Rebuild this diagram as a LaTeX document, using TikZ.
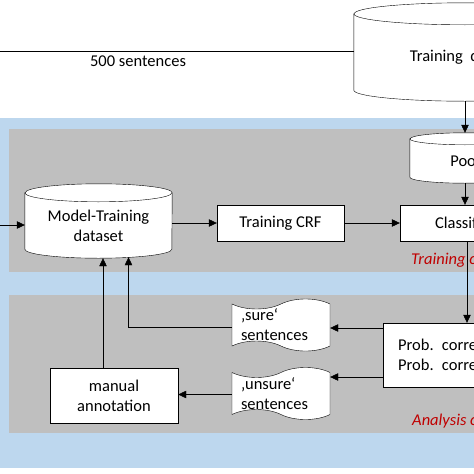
\documentclass[tikz,border=0pt]{standalone}
\usepackage{fontspec}
\setmainfont{Carlito}
\usetikzlibrary{%
  arrows.meta,%
  shapes.symbols,% wg. tape
  positioning,%
  calc%
}
\definecolor{cycleblue}{RGB}{189,215,238}
\definecolor{cyclegray}{RGB}{191,191,191}
\definecolor{cyclered}{RGB}{192,0,0}

\pgfdeclarelayer{panels}
\pgfdeclarelayer{dbshapes}
\pgfsetlayers{panels,dbshapes,main}

\tikzset{
  box/.style={draw,fill=white,inner sep=0pt,minimum height=36pt,align=center},
  dbody/.style={inner sep=0pt,align=center},
  sentbox/.style={tape,draw,fill=white,tape bend top=in and out,tape bend bottom=out and in,
    tape bend height=10pt,inner xsep=9pt,inner ysep=0pt,text width=80pt,align=left,
    minimum width=98pt,minimum height=51pt},
  cyclelabel/.style={font=\fontsize{16.5}{20}\selectfont\itshape,text=cyclered,anchor=west,inner sep=0pt}
}

\begin{document}
\begin{tikzpicture}[
  x=1pt,y=-1pt,
  >={Triangle[length=8pt,width=7.5pt]},
  line width=1.3pt,
  font=\fontsize{16.5}{20}\selectfont,
]
\useasboundingbox (0,0) rectangle (474,474);
\clip (0,0) rectangle (474,474);

% panels
\begin{pgfonlayer}{panels}
\fill[cycleblue] (0,118) rectangle (480,468);
\fill[cyclegray] (9,129) rectangle (480,272);
\fill[cyclegray] (9,295) rectangle (480,433);
\end{pgfonlayer}

% databases: node = cylinder body, outline drawn below
\node[dbody,minimum width=222pt,minimum height=65pt] (train) at (465,57.5) {Training\ \ dataset};
\node[dbody,minimum width=110pt,minimum height=32pt] (pool) at (465,161) {Pool};
\node[dbody,minimum width=147pt,minimum height=47pt] (mtd) at (98.5,225.5) {Model-Training\\dataset};
\begin{pgfonlayer}{dbshapes}
\foreach \n/\rx/\ry in {train/111/11,pool/55/6,mtd/73.5/9} {
  \draw[fill=white] ([yshift=\ry pt]\n.north west) -- (\n.south west)
    arc[start angle=180,end angle=360,x radius=\rx pt,y radius=\ry pt]
    -- ([yshift=\ry pt]\n.north east)
    arc[start angle=0,end angle=180,x radius=\rx pt,y radius=\ry pt] -- cycle;
  \draw ([yshift=\ry pt]\n.north west) arc[start angle=180,end angle=360,x radius=\rx pt,y radius=\ry pt];
}
\end{pgfonlayer}

\coordinate (src) at (0,51);
\draw (src) -- (src -| train.west);
\node (n500) at (138,61) {500 sentences};

\node[box,minimum width=127pt] (crf) at (280.5,223) {Training CRF};
\node[box,minimum width=130pt] (cls) at (465,223) {Classifier};
\node[cyclelabel] (tcyc) at (411,260) {Training cycle};

\node[box,anchor=west,minimum height=64pt,inner xsep=15pt,text width=170pt,align=left] (prob) at (383,355)
  {Prob. correct\\Prob. correct};
\node[sentbox] (sure) at (281,325) {‚sure‘\\sentences};
\node[sentbox] (unsure) at (281,393.5) {‚unsure‘\\sentences};
\node[box,minimum width=128pt,minimum height=55pt] (man) at (114,395.5) {manual\\annotation};
\node[cyclelabel] (acyc) at (412,421) {Analysis cycle};

\coordinate (in) at (0,225);
\coordinate (mtdbot) at ([yshift=-9pt]mtd.south);
\draw[->] (in) -- (in -| mtd.west);
\draw[->] (crf.west -| mtd.east) -- (crf.west);
\draw[->] (crf) -- (cls);
\draw[->] ([yshift=-11pt]train.south) -- ([yshift=12pt]pool.north);
\draw[->] ([yshift=-6pt]pool.south) -- (cls.north);
\draw[->] ([xshift=2pt]cls.south) -- ([xshift=2pt]cls.south |- prob.north);
\draw[->] ([yshift=27pt]prob.west) -- ([yshift=27pt]prob.west -| sure.east);
\draw[->] ([yshift=-22pt]prob.west) -- ([yshift=-22pt]prob.west -| unsure.east);
\draw[->] ([yshift=-2pt]sure.west) -| ([xshift=30pt,yshift=1pt]mtdbot);
\draw[->] ([yshift=-1pt]unsure.west) -- ([yshift=-1pt]unsure.west -| man.east);
\draw[->] ([xshift=-11pt]man.north) -- ([xshift=-11pt]man.north |- mtdbot);

\end{tikzpicture}
\end{document}
